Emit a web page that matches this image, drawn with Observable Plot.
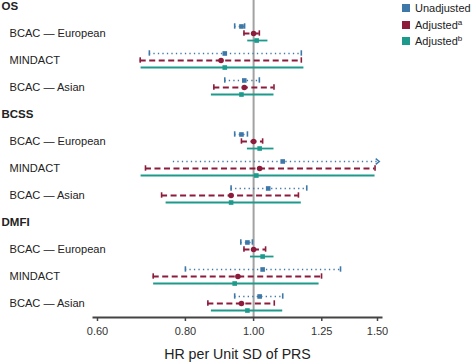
<!DOCTYPE html>
<html>
<head>
<meta charset="utf-8">
<script src="https://cdn.jsdelivr.net/npm/d3@7"></script>
<script src="https://cdn.jsdelivr.net/npm/@observablehq/plot@0.6"></script>
<style>
  html, body { margin: 0; padding: 0; background: #fff; }
  #wrap { position: relative; width: 474px; height: 364px; overflow: hidden; font-family: "Liberation Sans", Arial, sans-serif; }
  #legend { position: absolute; left: 402px; top: 0px; font-size: 11px; color: #222; }
  #legend .row { display: flex; align-items: center; height: 16.5px; white-space: nowrap; }
  #legend .sw { width: 8px; height: 8px; margin-right: 5px; flex: none; }
  #legend sup { font-size: 8px; line-height: 0; vertical-align: 4px; }
</style>
</head>
<body>
<div id="wrap"><div id="chart"></div><div id="legend"></div></div>
<script>
// ---- data ----
const outcomes = ["OS", "BCSS", "DMFI"];
const studies = ["BCAC — European", "MINDACT", "BCAC — Asian"];
const seriesNames = ["Unadjusted", "Adjusted", "Adjusted"];
const seriesSup = ["", "a", "b"];
const seriesColors = ["#3d78a8", "#8c1c3c", "#1d9a8c"];
const xTicks = [0.60, 0.80, 1.00, 1.25, 1.50];
const xLabel = "HR per Unit SD of PRS";

// order: OS(Euro, MINDACT, Asian), BCSS(...), DMFI(...)
const unadjHR = [0.961, 0.910, 0.970, 0.961, 1.100, 1.049, 0.980, 1.030, 1.020];
const unadjLo = [0.940, 0.711, 0.910, 0.940, 0.769, 0.929, 0.959, 0.800, 0.940];
const unadjHi = [0.971, 1.169, 1.019, 0.980, 1.500, 1.190, 0.996, 1.329, 1.100];
const unadjOpen = [false, false, false, false, true, false, false, false, false];

const adjAHR = [1.000, 0.899, 0.970, 1.000, 1.020, 0.929, 1.000, 0.950, 0.961];
const adjALo = [0.969, 0.690, 0.878, 0.961, 0.702, 0.740, 0.969, 0.720, 0.861];
const adjAHi = [1.019, 1.169, 1.069, 1.030, 1.488, 1.158, 1.040, 1.249, 1.070];

const adjBHR = [1.010, 0.910, 0.961, 1.020, 1.009, 0.929, 1.030, 0.940, 0.980];
const adjBLo = [0.981, 0.692, 0.871, 0.980, 0.692, 0.751, 0.990, 0.721, 0.871];
const adjBHi = [1.048, 1.179, 1.069, 1.069, 1.488, 1.169, 1.069, 1.239, 1.100];

// ---- build tables ----
const seriesData = [
  {hr: unadjHR, lo: unadjLo, hi: unadjHi},
  {hr: adjAHR, lo: adjALo, hi: adjAHi},
  {hr: adjBHR, lo: adjBLo, hi: adjBHi}
];
const offsets = [-0.26, 0, 0.26];
const headers = outcomes.map((o, i) => ({name: o, row: i * 4}));
const labels = [];
const rows = [];
outcomes.forEach((o, oi) => {
  studies.forEach((s, si) => {
    const k = oi * 3 + si;
    const row = oi * 4 + si + 1;
    labels.push({name: s, row});
    seriesData.forEach((sd, j) => {
      rows.push({
        series: j, outcome: o, study: s,
        y: row + offsets[j],
        hr: sd.hr[k], lo: sd.lo[k], hi: sd.hi[k],
        open: j === 0 ? unadjOpen[k] : false
      });
    });
  });
});
const S = j => rows.filter(d => d.series === j);
const capped = j => S(j).filter(d => !d.open);
const openRows = S(0).filter(d => d.open);

const chevron = {
  draw(ctx, size) {
    const r = Math.sqrt(size / Math.PI);
    ctx.moveTo(-r * 0.7, -r * 1.1);
    ctx.lineTo(r * 0.7, 0);
    ctx.lineTo(-r * 0.7, r * 1.1);
  }
};

const capH = 0.1;
const plot = Plot.plot({
  width: 474,
  height: 364,
  marginTop: 0,
  marginBottom: 47,
  marginLeft: 93,
  marginRight: 93,
  style: {fontFamily: "'Liberation Sans', Arial, sans-serif", fontSize: "11px", color: "#222", background: "#fff"},
  x: {type: "log", domain: [0.6, 1.5], range: [97, 377]},
  y: {domain: [0, 11], range: [6, 303], axis: null},
  marks: [
    Plot.ruleX([1], {stroke: "#a2a2a2", strokeWidth: 2}),
    // Unadjusted: dotted
    Plot.ruleY(S(0), {y: "y", x1: "lo", x2: "hi", stroke: seriesColors[0], strokeWidth: 1.6, strokeDasharray: "1.3,3.2"}),
    Plot.ruleX(capped(0), {x: "lo", y1: d => d.y - capH, y2: d => d.y + capH, stroke: seriesColors[0], strokeWidth: 1.6}),
    Plot.ruleX(capped(0), {x: "hi", y1: d => d.y - capH, y2: d => d.y + capH, stroke: seriesColors[0], strokeWidth: 1.6}),
    Plot.dot(openRows, {x: "hi", y: "y", symbol: chevron, r: 2.6, fill: "none", stroke: seriesColors[0], strokeWidth: 1.4}),
    // Adjusted a: dashed
    Plot.ruleY(S(1), {y: "y", x1: "lo", x2: "hi", stroke: seriesColors[1], strokeWidth: 1.8, strokeDasharray: "6,3.5"}),
    Plot.ruleX(S(1), {x: "lo", y1: d => d.y - capH, y2: d => d.y + capH, stroke: seriesColors[1], strokeWidth: 1.6}),
    Plot.ruleX(S(1), {x: "hi", y1: d => d.y - capH, y2: d => d.y + capH, stroke: seriesColors[1], strokeWidth: 1.6}),
    // Adjusted b: solid
    Plot.ruleY(S(2), {y: "y", x1: "lo", x2: "hi", stroke: seriesColors[2], strokeWidth: 1.8}),
    // points
    Plot.dot(S(0), {x: "hr", y: "y", symbol: "square", r: 2.6, fill: seriesColors[0]}),
    Plot.dot(S(1), {x: "hr", y: "y", symbol: "circle", r: 2.8, fill: seriesColors[1]}),
    Plot.dot(S(2), {x: "hr", y: "y", symbol: "square", r: 2.6, fill: seriesColors[2]}),
    // headers & labels
    Plot.text(headers, {y: "row", text: "name", frameAnchor: "left", dx: -92, textAnchor: "start", fontWeight: "bold", fontSize: 11.5, fill: "#222"}),
    Plot.text(labels, {y: "row", text: "name", frameAnchor: "left", dx: -84, textAnchor: "start", fontSize: 11.1, fill: "#222"}),
    // axis
    Plot.frame({anchor: "bottom", stroke: "#444", strokeWidth: 2}),
    Plot.axisX({ticks: xTicks, tickFormat: d3.format(".2f"), tickSize: 4, tickPadding: 6, stroke: "#444", strokeWidth: 1.5, fontSize: 11, fill: "#333", label: null}),
    Plot.text([xLabel], {frameAnchor: "bottom", dy: 37, lineAnchor: "middle", fontSize: 14.2, fill: "#222"})
  ]
});
document.getElementById("chart").appendChild(plot);

const legend = document.getElementById("legend");
seriesNames.forEach((n, i) => {
  const r = document.createElement("div");
  r.className = "row";
  r.innerHTML = `<span class="sw" style="background:${seriesColors[i]}"></span><span>${n}${seriesSup[i] ? `<sup>${seriesSup[i]}</sup>` : ""}</span>`;
  legend.appendChild(r);
});
</script>
</body>
</html>
